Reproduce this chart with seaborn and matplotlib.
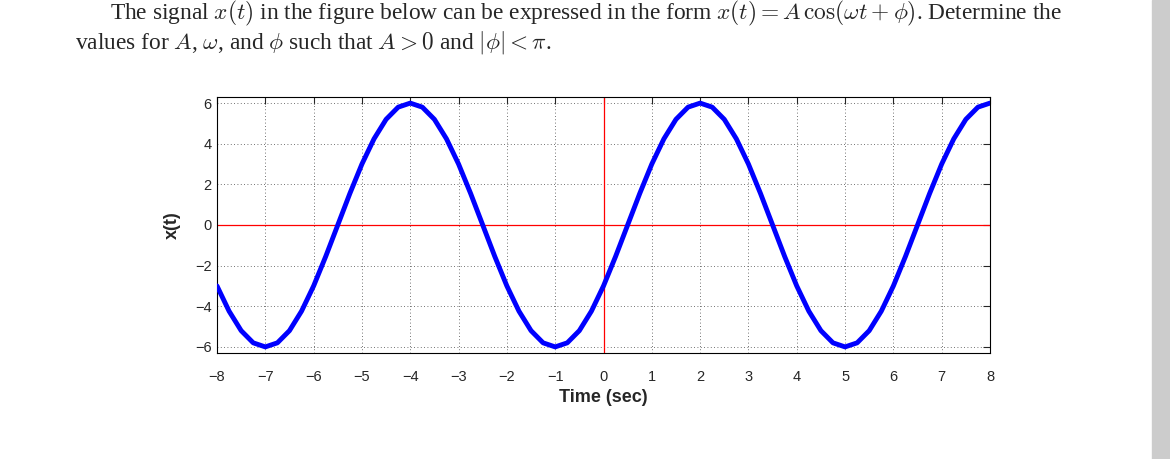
import matplotlib
matplotlib.use("Agg")
import matplotlib.pyplot as plt
import seaborn as sns
import numpy as np
import pandas as pd

t_step = 0.25
t_start = -8
cycle = [-3, -4.24, -5.2, -5.8, -6, -5.8, -5.2, -4.24, -3, -1.55, 0, 1.55,
         3, 4.24, 5.2, 5.8, 6, 5.8, 5.2, 4.24, 3, 1.55, 0, -1.55]
x_vals = cycle + cycle + cycle[:17]
t_vals = [t_start + i * t_step for i in range(len(x_vals))]
xticks = list(range(-8, 9))
yticks = [-6, -4, -2, 0, 2, 4, 6]

sns.set_style("white")
plt.rcParams['font.family'] = ['Liberation Sans', 'DejaVu Sans']
plt.rcParams['mathtext.fontset'] = 'cm'

fig = plt.figure(figsize=(11.7, 4.59), dpi=100)
fig.patches.append(matplotlib.patches.Rectangle((1152/1170, 0), 18/1170, 1,
                   transform=fig.transFigure, color='#cccccc', zorder=0))

fig.text(110/1170, 1 - 13/459, r"The signal $x(t)$ in the figure below can be expressed in the form $x(t) = A\,\cos(\omega t + \phi)$. Determine the",
         fontsize=16.8, family='Liberation Serif', va='center')
fig.text(75/1170, 1 - 42/459, r"values for $A$, $\omega$, and $\phi$ such that $A > 0$ and $|\phi| < \pi$.",
         fontsize=16.8, family='Liberation Serif', va='center')

ax = fig.add_axes([217/1170, 1 - 353/459, 773/1170, 256/459])
df = pd.DataFrame({"t": t_vals, "x": x_vals})
ax.axhline(0, color='red', lw=0.9, zorder=1)
ax.axvline(0, color='red', lw=0.9, zorder=1)
sns.lineplot(data=df, x="t", y="x", ax=ax, color='blue', lw=3.5, zorder=3)
ax.set_xlim(-8, 8)
ax.set_ylim(-6.3, 6.3)
ax.set_xticks(xticks)
ax.set_yticks(yticks)
ax.grid(True, color='#444444', linestyle=(0, (1, 3)), lw=0.6)
ax.tick_params(direction='in', length=5, labelsize=10.5, top=True, right=True)
ax.tick_params(axis='x', pad=12)
ax.tick_params(axis='y', pad=4)
for s in ax.spines.values():
    s.set_color('black'); s.set_linewidth(0.8)
ax.set_xlabel("Time (sec)", fontsize=13, fontweight='bold', labelpad=4)
ax.set_ylabel("x(t)", fontsize=13, fontweight='bold', labelpad=10)
fig.savefig("out.png", dpi=100)
